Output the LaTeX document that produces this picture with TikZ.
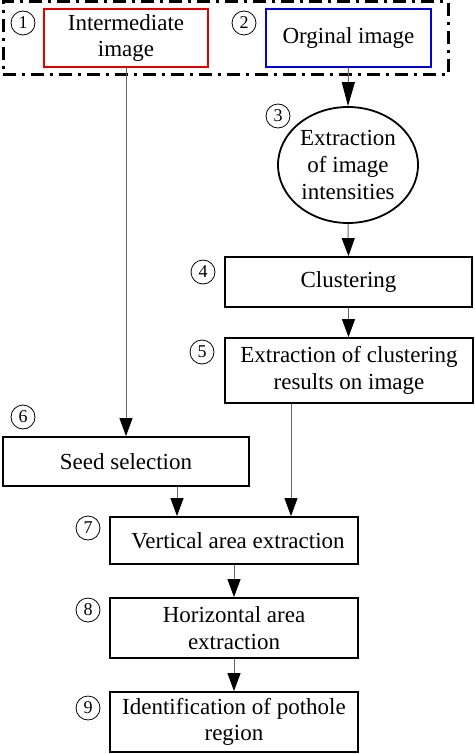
\documentclass[tikz,border=0pt]{standalone}
\usepackage{fontspec}
\setmainfont{Liberation Serif}
\usetikzlibrary{arrows.meta,shapes.geometric}
\begin{document}
\begin{tikzpicture}[x=1pt,y=1pt,
  txt/.style={font=\fontsize{23}{26.5}\selectfont, align=center, inner sep=0pt},
  blk/.style={txt, draw=black, line width=1.8pt},
  numc/.style={circle, draw=black, line width=0.8pt, minimum size=24pt, inner sep=0pt, font=\fontsize{18}{18}\selectfont},
  arr/.style={draw=black!60, line width=1pt, -{Triangle[length=18pt,width=13pt,color=black]}},
  framebox/.style={draw=black, line width=3pt, dash pattern=on 13pt off 6pt on 3pt off 6pt}
]
\useasboundingbox (0,0) rectangle (474,-754);
% frame
\node[framebox, minimum width=445pt, minimum height=73pt, inner sep=0pt] (frame) at (225.5,-38.5) {};
% top boxes
\node[txt, draw=red!90!black, line width=1.4pt, minimum width=164pt, minimum height=58pt] (inter) at (126,-38) {Intermediate\\image};
\node[txt, draw=blue!85!black, line width=1.4pt, minimum width=165pt, minimum height=58pt] (orig) at (348.5,-38) {Orginal image};
% ellipse
\node[txt, ellipse, draw=black, line width=1.8pt, minimum width=140pt, minimum height=116pt, font=\fontsize{23}{27}\selectfont] (ext) at (348,-165) {Extraction\\of image\\intensities};
% boxes
\node[blk, minimum width=247pt, minimum height=50pt] (clus) at (348.5,-282) {Clustering};
\node[blk, minimum width=248pt, minimum height=65pt] (res) at (349,-370.5) {Extraction of clustering\\results on image};
\node[blk, minimum width=246pt, minimum height=49pt] (seed) at (126,-461.5) {Seed selection};
\node[blk, minimum width=248pt, minimum height=47pt] (vert) at (234,-540.5) {\hspace*{8pt}Vertical area extraction};
\node[blk, minimum width=248pt, minimum height=60pt] (horiz) at (234,-628) {Horizontal area\\extraction};
\node[blk, minimum width=248pt, minimum height=60pt] (ident) at (234,-722) {Identification of pothole\\region};
% numbers
\node[numc] (n1) at (23,-23) {1};
\node[numc] (n2) at (244,-23) {2};
\node[numc] (n3) at (278,-116) {3};
\node[numc] (n4) at (203,-272) {4};
\node[numc] (n5) at (202,-352) {5};
\node[numc] (n6) at (23,-417) {6};
\node[numc] (n7) at (88,-528) {7};
\node[numc] (n8) at (88,-610) {8};
\node[numc] (n9) at (88,-708) {9};
% connectors
\draw[arr] (inter.south) -- (seed.north);
\draw[arr, -{Triangle[length=24pt,width=13pt,color=black]}] (orig.south) -- (ext.north);
\draw[arr] (ext.south) -- (clus.north);
\draw[arr] (clus.south) -- (clus.south |- res.north);
\draw[arr] ([xshift=-58pt]res.south) -- ([xshift=-58pt]res.south |- vert.north);
\draw[arr] ([xshift=51pt]seed.south) -- ([xshift=51pt]seed.south |- vert.north);
\draw[arr] (vert.south) -- (horiz.north);
\draw[arr] (horiz.south) -- (ident.north);
\end{tikzpicture}
\end{document}
